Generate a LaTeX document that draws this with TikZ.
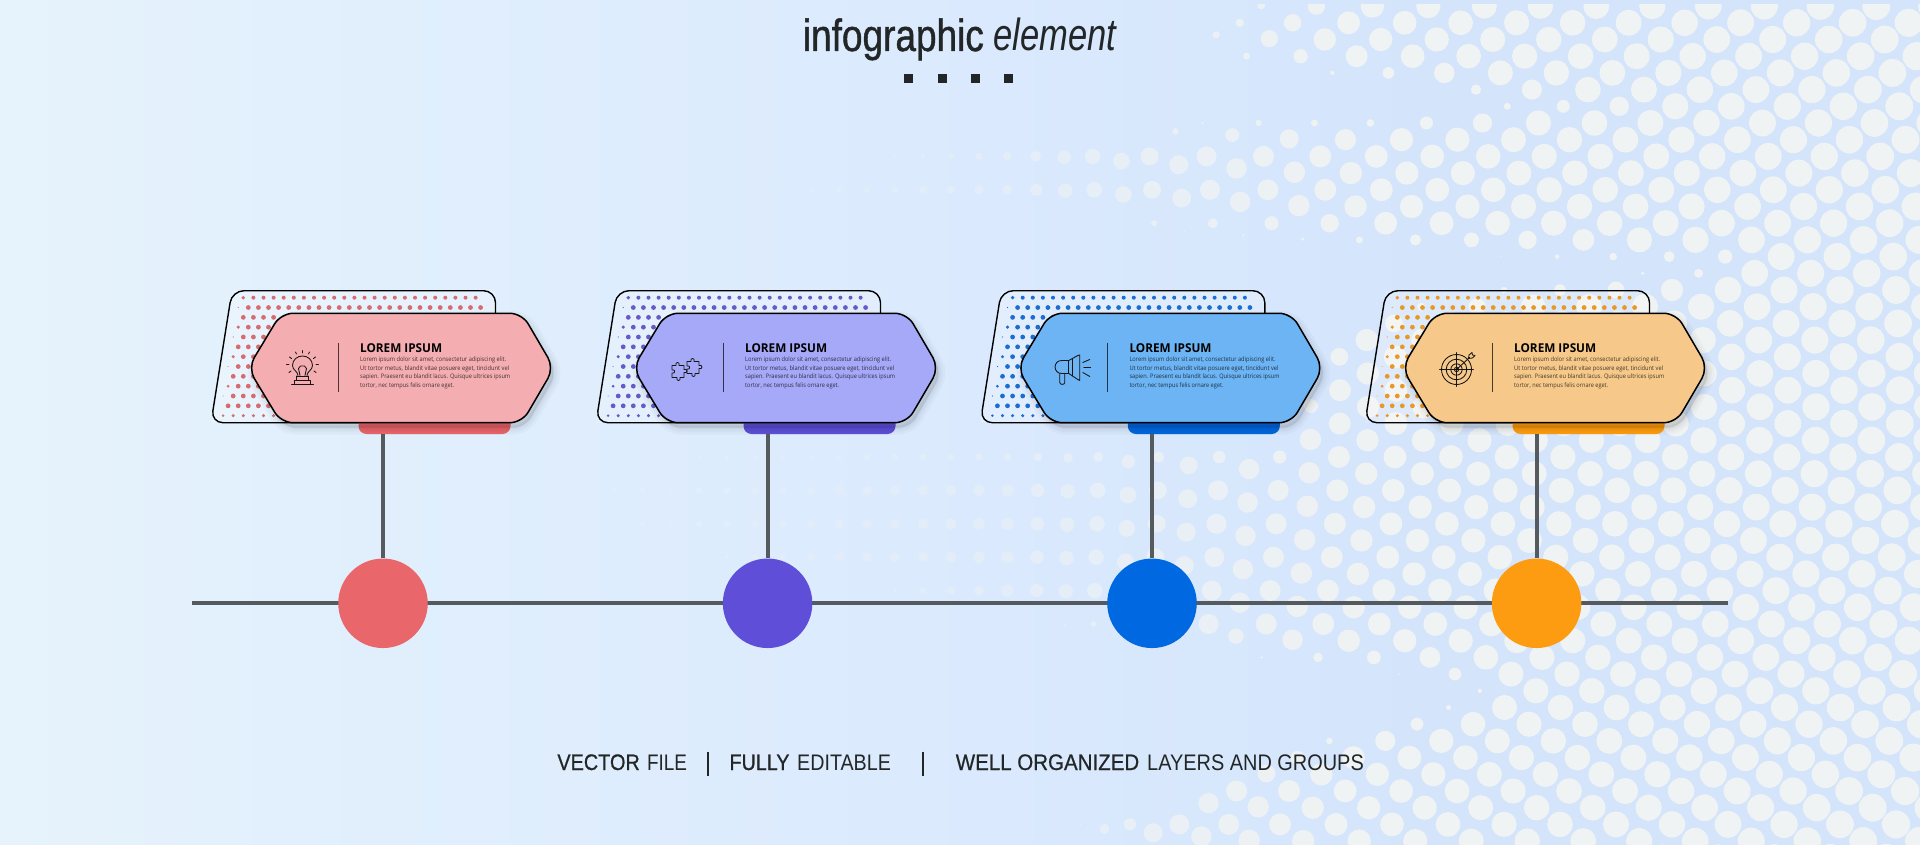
\documentclass[tikz,border=0pt]{standalone}
\usepackage{fontspec}
\usepackage{graphicx}
\setmainfont{Liberation Sans}
\newfontfamily\cardf{Open Sans}
\newfontfamily\heavyf[FakeBold=1.1]{Liberation Sans}
\newfontfamily\midf[FakeBold=.7]{Liberation Sans}
\definecolor{bga}{HTML}{E6F3FC}
\definecolor{bgb}{HTML}{E2F0FD}
\definecolor{bgc}{HTML}{DAE9FD}
\definecolor{bgd}{HTML}{D3E4FB}
\definecolor{bge}{HTML}{D3E4FB}
\definecolor{halftone}{HTML}{F0F3F3}
\definecolor{ink}{HTML}{222626}
\definecolor{linegrey}{HTML}{555A5E}
\definecolor{pinkL}{HTML}{F4AEB2}\definecolor{pinkD}{HTML}{E9666B}
\definecolor{violL}{HTML}{A6A8F8}\definecolor{violD}{HTML}{5F4FD8}
\definecolor{blueL}{HTML}{6CB4F3}\definecolor{blueD}{HTML}{0068E0}
\definecolor{orngL}{HTML}{F6C98A}\definecolor{orngD}{HTML}{FD9C10}
\pgfdeclarehorizontalshading{pagebg}{100bp}{color(0bp)=(bga);color(25bp)=(bga);color(32.5bp)=(bgb);color(51bp)=(bgc);color(64bp)=(bgd);color(75bp)=(bge);color(100bp)=(bge)}
\newcommand\fitw[2]{\resizebox{#1pt}{\height}{#2}}
\tikzset{
  conn/.style={draw=linegrey,line width=3.8pt},
  hub/.style={circle,inner sep=0pt,minimum size=89.5pt,fill=#1},
  barbox/.style={rectangle,rounded corners=8pt,inner sep=0pt,minimum width=152pt,minimum height=30pt,fill=#1},
  word/.style={anchor=base west,inner sep=0pt,text=ink},
  cardtitle/.style={anchor=base west,inner sep=0pt,text=black,font=\cardf\bfseries\fontsize{12.2}{14}\selectfont},
  cardbody/.style={anchor=base west,inner sep=0pt,text=black,text opacity=.72,font=\cardf\fontsize{6.2}{8}\selectfont},
  icon/.style={draw=black!92,line width=.85pt,line join=round,line cap=round},
}
\newcommand\frontpath{(248,368) -- (281,313.3) -- (522,313.3) -- (554,368) -- (522,422.7) -- (281,422.7) -- cycle}
\newcommand\backpath{(232,290.7) -- (495.5,290.7) -- (495.5,380) -- (400,422.7) -- (211,422.7) -- cycle}
\newcommand\iconbulb{
  \draw[icon] (-4.5,6) .. controls (-4.5,2) and (-10,0.5) .. (-10,-4) .. controls (-10,-10) and (-5,-13.5) .. (0,-13.5) .. controls (5,-13.5) and (10,-10) .. (10,-4) .. controls (10,0.5) and (4.5,2) .. (4.5,6);
  \draw[icon] (-2.5,6) -- (-4,-1) -- (-2,-3.5) -- (2,-3.5) -- (4,-1) -- (2.5,6);
  \draw[icon] (-6,6.5) -- (6,6.5) (-6,6.5) -- (-6,11) (6,6.5) -- (6,11) (-8,11) -- (8,11) (-11,15) -- (11,15) (-8,11) -- (-8,15) (8,11) -- (8,15);
  \draw[icon] (0,-19) -- (0,-16.5) (-7,-17.5) -- (-6,-15.5) (7,-17.5) -- (6,-15.5) (-13,-12.5) -- (-11,-11) (13,-12.5) -- (11,-11) (-16,-5) -- (-13.5,-5) (16,-5) -- (13.5,-5) (-13.5,3) -- (-11.5,1.5) (13.5,3) -- (11.5,1.5);
}
\newcommand\piece[2]{
  \draw[icon,shift={(#1,#2)}] (-8,-6) -- (-4,-6) .. controls (-5.5,-10) and (0.5,-10) .. (-1,-6) -- (4,-6) -- (4,-2) .. controls (8,-3.5) and (8,2.5) .. (4,1) -- (4,6) -- (0,6) .. controls (1.5,10) and (-4.5,10) .. (-3,6) -- (-8,6) -- (-8,1.5) .. controls (-4.5,3) and (-4.5,-3) .. (-8,-1.5) -- cycle;
}
\newcommand\iconpuzzle{\piece{-7.5}{2}\piece{7.5}{-2}}
\newcommand\iconhorn{
  \draw[icon] (-10,-9) -- (-3,-9) -- (6,-14) -- (8,-14.5) -- (8,11) -- (6,10) -- (-3,4) -- (-10,4) .. controls (-19,4) and (-19,-9) .. (-10,-9);
  \draw[icon] (-3,-9) -- (-3,4) (1,-11) -- (1,6.5);
  \draw[icon] (-12,4) -- (-12,13) .. controls (-12,15.5) and (-7,15.5) .. (-7,13) -- (-7,4);
  \draw[icon] (11,-7) -- (18,-10) (12,-2) -- (19,-2) (11,3) -- (18,7);
}
\newcommand\icontarget{
  \draw[icon] (0,0) circle[radius=15] (0,0) circle[radius=10.3] (0,0) circle[radius=5.7] (0,0) circle[radius=2.2];
  \draw[icon] (-17,0) -- (17,0) (0,-17) -- (0,17);
  \draw[icon] (0,0) -- (13,-12);
  \draw[icon] (12,-11) -- (12.5,-14.5) -- (15.5,-17) -- (16,-14.5) -- (18.5,-14) -- (16,-11.5) -- cycle;
}
\newcommand\mkcard[5]{
 \begin{scope}[shift={(#2,0)}]
  \fill[white,opacity=.22] \backpath;
  \begin{scope}
   \clip \backpath;
   \foreach \r in {0,...,12}{
    \pgfmathsetmacro\ry{297.7+9.83*\r}
    \pgfmathsetmacro\rb{mod(\r,2)==0?243.3:248.3}
    \pgfmathsetmacro\re{232-.159*(\ry-290.7)}
    \pgfmathsetmacro\rm{\r==0?2:(\r==12?1.7:2.4)}
    \foreach \k in {-5,...,23}{
     \pgfmathsetmacro\dx{\rb+10.1*\k}
     \pgfmathsetmacro\dd{\dx-\re}
     \ifdim\dd pt>7pt
      \ifdim\dx pt<295pt
       \pgfmathsetmacro\dr{max(.6,min(\rm,(\dd-7)*.35))}
       \fill[#4!90!black!90] (\dx,\ry) circle[radius=\dr];
      \else\ifnum\r<2
       \fill[#4!90!black!90] (\dx,\ry) circle[radius=\rm];
      \fi\fi
     \fi
    }
   }
  \end{scope}
  \draw[black,line width=1.4pt,rounded corners=12pt] (400,422.7) -- (211,422.7) -- (232,290.7) -- (495.5,290.7) -- (495.5,330);
  \node[barbox=#4] (bar#1) at (434.5,419) {};
  \foreach \w in {14,9,5,2}{
   \fill[black,opacity=.022,rounded corners=12pt,shift={(3,5)},draw=black,line width=\w pt] \frontpath;
  }
  \filldraw[fill=#3,draw=black,line width=1.5pt,rounded corners=12pt] \frontpath;
  \draw[black,opacity=.7,line width=1pt] (338,342.7) -- (338,392);
  \begin{scope}[shift={(302.5,369.5)}]
   #5
  \end{scope}
  \node[cardtitle] (title#1) at (360,352) {\fitw{82}{LOREM IPSUM}};
  \node[cardbody] (lna#1) at (360,361.7) {\fitw{146}{Lorem ipsum dolor sit amet, consectetur adipiscing elit.}};
  \node[cardbody] (lnb#1) at (360,370.2) {\fitw{149}{Ut tortor metus, blandit vitae posuere eget, tincidunt vel}};
  \node[cardbody] (lnc#1) at (360,378.8) {\fitw{150}{sapien. Praesent eu blandit lacus. Quisque ultrices ipsum}};
  \node[cardbody] (lnd#1) at (360,387.4) {\fitw{94}{tortor, nec tempus felis ornare eget.}};
 \end{scope}
}
\begin{document}
\begin{tikzpicture}[x=1pt,y=-1pt]
\useasboundingbox (0,0) rectangle (1920,845);
\shade[shading=pagebg] (0,0) rectangle (1920,845);
\begin{scope}
\clip (0,5) rectangle (1920,845);
\foreach \i in {0,...,52}{
 \pgfmathsetmacro\X{1959-28*\i}
 \pgfmathsetmacro\dfA{50+.15*(\X-1190)+.033*max(0,\X-1423)+.85*max(0,\X-1650)}
 \pgfmathsetmacro\dxd{(\X-1190)*.19-2}
 \pgfmathsetmacro\dgB{187-.1985*(\X-684)+.1055*max(0,\X-820)+.085*max(0,\X-1250)-.104*max(0,\X-1375)-.97*max(0,\X-1650)}
 \pgfmathsetmacro\dhB{193+.043*(\X-684)+.127*max(0,\X-1030)-.089*max(0,\X-1142)-.023*max(0,\X-1420)+1.583*max(0,\X-1720)}
 \pgfmathsetmacro\dkC{445-1.91*max(0,\X-1260)+1.735*max(0,\X-1328)+.078*max(0,\X-1482)-1.228*max(0,\X-1720)}
 \pgfmathsetmacro\dmC{495+.406*(\X-520)-.24*max(0,\X-680)-.085*max(0,\X-1300)+.177*max(0,\X-1411)+1.792*max(0,\X-1500)}
 \pgfmathsetmacro\dpD{830-.256*(\X-1073)-.199*max(0,\X-1190)+.177*max(0,\X-1300)-.222*max(0,\X-1458)-1.5*max(0,\X-1510)+1.06*max(0,\X-1600)}
 \pgfmathsetmacro\dRm{1.5+.0089*(\X-520)+.0011*max(0,\X-800)+.01*max(0,\X-1000)-.0117*max(0,\X-1200)-.0046*max(0,\X-1500)}
 \pgfmathsetmacro\dop{min(1,.2+.0005*max(0,\X-520)+.00108*max(0,\X-1000))}
 \pgfmathsetmacro\dst{16.7*(1-mod(\i,2))*min(1,max(0,(\X-1050)/250))}
 \pgfmathsetmacro\dbl{min(1,max(0,(\X-1000)/300))}
 \foreach \j in {-14,...,12}{
  \pgfmathsetmacro\Y{457+33.4*\j+\dst}
  \pgfmathsetmacro\D{max(min(\dfA-\Y,\dxd+(\Y-38)*.35),min(\Y-\dgB,\dhB-\Y),min(\Y-\dkC,\dmC-\Y),\Y-\dpD)}
  \pgfmathsetmacro\Rr{\dRm*min(1,max(0,(\D+5)/27))}
  \ifdim\Rr pt>0.6pt
   \pgfmathsetmacro\XX{\X+\dbl*(25-((\Y-400)/54.8)*((\Y-400)/54.8))}
   \fill[halftone,fill opacity=\dop] (\XX,\Y) circle[radius=\Rr];
  \fi
 }
}
\end{scope}
\node[word,font=\heavyf\fontsize{45}{50}\selectfont] (ttl) at (802.7,51) {\fitw{181}{infographic}};
\node[word,font=\itshape\fontsize{45}{50}\selectfont] (ttlb) at (993,51) {\fitw{123}{element}};
\foreach \n/\x in {a/908.8,b/942,c/975,d/1008}{
 \node[rectangle,fill=ink,inner sep=0pt,minimum size=9pt] (sq\n) at (\x,79) {};
}
\coordinate (axisL) at (192,603.3);
\coordinate (axisR) at (1728,603.3);
\draw[conn,line width=4pt] (axisL) -- (axisR);
\node[hub=pinkD] (hub1) at (383,603.3) {};
\node[hub=violD] (hub2) at (767.6,603.3) {};
\node[hub=blueD] (hub3) at (1152,603.3) {};
\node[hub=orngD] (hub4) at (1536.6,603.3) {};
\mkcard{1}{0}{pinkL}{pinkD}{\iconbulb}
\mkcard{2}{385}{violL}{violD}{\iconpuzzle}
\mkcard{3}{769.3}{blueL}{blueD}{\iconhorn}
\mkcard{4}{1154}{orngL}{orngD}{\icontarget}
\draw[conn] (hub1.center |- bar1.south) -- (hub1.north);
\draw[conn] (hub2.center |- bar2.south) -- (hub2.north);
\draw[conn] (hub3.center |- bar3.south) -- (hub3.north);
\draw[conn] (hub4.center |- bar4.south) -- (hub4.north);
\node[word,font=\midf\fontsize{22.5}{26}\selectfont] (fa) at (557.2,770) {\fitw{82.4}{VECTOR}};
\node[word,font=\fontsize{22.5}{26}\selectfont] (fb) at (646.9,770) {\fitw{40}{FILE}};
\node[word,font=\midf\fontsize{22.5}{26}\selectfont] (fc) at (729.3,770) {\fitw{60}{FULLY}};
\node[word,font=\fontsize{22.5}{26}\selectfont] (fd) at (797,770) {\fitw{93.7}{EDITABLE}};
\node[word,font=\midf\fontsize{22.5}{26}\selectfont] (fe) at (955.6,770) {\fitw{183.4}{WELL ORGANIZED}};
\node[word,font=\fontsize{22.5}{26}\selectfont] (ff) at (1147,770) {\fitw{216.6}{LAYERS AND GROUPS}};
\coordinate (sepat) at (708,751.7);\coordinate (sepab) at (708,776);
\coordinate (sepbt) at (922.7,751.7);\coordinate (sepbb) at (922.7,776);
\draw[ink,line width=1.6pt] (sepat) -- (sepab) (sepbt) -- (sepbb);
\end{tikzpicture}
\end{document}
